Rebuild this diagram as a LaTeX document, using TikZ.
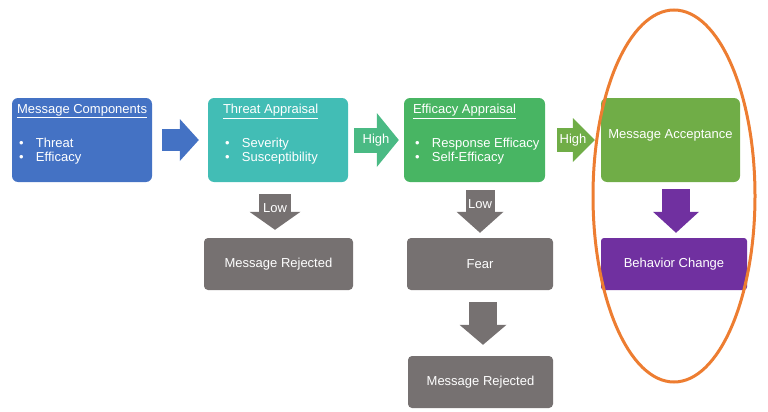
\documentclass[tikz,border=0pt]{standalone}
\usepackage{fontspec}
\setmainfont{Liberation Sans}
\usetikzlibrary{arrows.meta}

\definecolor{compblue}{RGB}{68,114,196}
\definecolor{threatteal}{RGB}{66,189,181}
\definecolor{highmint}{RGB}{74,186,132}
\definecolor{efficgreen}{RGB}{72,181,99}
\definecolor{acceptgreen}{RGB}{112,173,71}
\definecolor{changepurple}{RGB}{112,48,160}
\definecolor{rejectgray}{RGB}{118,113,113}
\definecolor{focusorange}{RGB}{237,125,49}

\newcommand{\bul}[1]{\makebox[19pt][l]{\hspace{2pt}\textbullet}#1}

\begin{document}
\begin{tikzpicture}[
  x=1pt, y=-1pt,
  box/.style={
    rounded corners=6pt,
    text=white,
    inner sep=0pt,
    font=\fontsize{13}{14}\selectfont
  },
  bigbox/.style={box, minimum width=140pt, minimum height=84pt},
  smallbox/.style={box, rounded corners=4pt, minimum width=146pt, minimum height=52pt},
  boxtext/.style={
    anchor=north west,
    align=left,
    inner sep=0pt,
    text=white,
    font=\fontsize{13}{14}\selectfont
  },
  tag/.style={text=white, font=\fontsize{13}{14}\selectfont},
  fat/.style n args={3}{line width=#1pt, -{Triangle[width=#2pt, length=#3pt, line width=0pt]}}
]
\useasboundingbox (0,0) rectangle (768,412);

% top row
\node[bigbox, fill=compblue] (comp) at (82,140) {};
\node[bigbox, fill=threatteal] (threat) at (278,140) {};
\node[bigbox, fill=efficgreen, minimum width=141pt] (effic) at (474.5,140) {};
\node[bigbox, fill=acceptgreen, minimum width=139pt, text depth=12pt] (accept) at (670.5,140) {Message Acceptance};

\node[boxtext] (comptext) at ([shift={(5,6.5)}]comp.north west)
  {\underline{Message Components}\\[18.5pt]\bul{Threat}\\\bul{Efficacy}};
\node[boxtext] (threattext) at ([shift={(15,6.5)}]threat.north west)
  {\underline{Threat Appraisal}\\[18.5pt]\bul{Severity}\\\bul{Susceptibility}};
\node[boxtext] (effictext) at ([shift={(9,6.5)}]effic.north west)
  {\underline{Efficacy Appraisal}\\[18.5pt]\bul{Response Efficacy}\\\bul{Self-Efficacy}};

% lower boxes
\node[smallbox, fill=rejectgray, minimum width=149pt] (rej1) at (278.5,264) {Message Rejected};
\node[smallbox, fill=rejectgray] (fear) at (480,264) {Fear};
\node[smallbox, fill=rejectgray, minimum width=145pt] (rej2) at (480.5,382) {Message Rejected};
\node[smallbox, fill=changepurple, rounded corners=3pt] (change) at (674,264) {Behavior Change};

% block arrows
\draw[fat={22}{42}{19}, compblue, shorten <=10pt, shorten >=9pt] (comp.east) -- (threat.west);
\draw[fat={25}{54}{22}, highmint, shorten <=6pt, shorten >=5pt] (threat.east) -- node[tag] {High} (effic.west);
\draw[fat={24}{44}{22}, acceptgreen, shorten <=12pt, shorten >=6pt] (effic.east) -- node[tag] {High} (accept.west);
\draw[fat={32}{51}{18}, rejectgray, shorten <=12pt, shorten >=8pt]
  ([xshift=-3pt]threat.south) -- node[tag, pos=0.47] {Low} ([xshift=-3pt]threat.south |- rej1.north);
\draw[fat={29}{47}{21}, rejectgray, shorten <=8pt, shorten >=5pt]
  (fear.north |- effic.south) -- node[tag, pos=0.4] {Low} (fear.north);
\draw[fat={28}{47}{20}, rejectgray, shorten <=12pt, shorten >=11pt]
  ([xshift=3pt]fear.south) -- ([xshift=3pt]fear.south |- rej2.north);
\draw[fat={28}{46}{21}, changepurple, shorten <=7pt, shorten >=5pt]
  ([xshift=2pt]change.north |- accept.south) -- ([xshift=2pt]change.north);

% highlight
\draw[focusorange, line width=3pt] (674,196) ellipse [x radius=81pt, y radius=186pt];
\end{tikzpicture}
\end{document}
